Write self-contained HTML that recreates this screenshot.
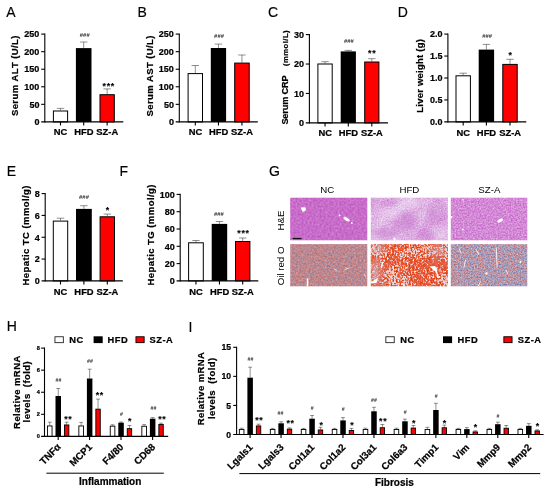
<!DOCTYPE html>
<html lang="en"><head><meta charset="utf-8"><title>Figure</title>
<style>html,body{margin:0;padding:0;background:#fff}svg{display:block}text{font-family:"Liberation Sans", sans-serif;font-kerning:none}text[font-weight=bold]{stroke:#000;stroke-width:.22px}</style>
</head><body>
<svg width="550" height="492" viewBox="0 0 550 492">
<rect width="550" height="492" fill="#fff"/>
<defs>
<filter id="hNC" x="0" y="0" width="100%" height="100%" color-interpolation-filters="sRGB">
 <feTurbulence type="fractalNoise" baseFrequency="0.5" numOctaves="2" seed="3"/>
 <feColorMatrix type="matrix" values="0.16 0 0 0 0.705  0.3 0 0 0 0.275  0.14 0 0 0 0.720  0 0 0 0 1"/>
 <feComposite in2="SourceGraphic" operator="in"/>
</filter>
<filter id="hSZ" x="0" y="0" width="100%" height="100%" color-interpolation-filters="sRGB">
 <feTurbulence type="fractalNoise" baseFrequency="0.6" numOctaves="2" seed="11"/>
 <feColorMatrix type="matrix" values="0.2 0 0 0 0.730  0.5 0 0 0 0.285  0.2 0 0 0 0.740  0 0 0 0 1"/>
 <feComposite in2="SourceGraphic" operator="in"/>
</filter>
<filter id="hHFD" x="0" y="0" width="100%" height="100%" color-interpolation-filters="sRGB">
 <feTurbulence type="fractalNoise" baseFrequency="0.7" numOctaves="2" seed="5"/>
 <feColorMatrix type="matrix" values="1 0 0 0 0  0 0 0 0 0  0 0 0 0 0  0 0 0 0 1" result="hi"/>
 <feTurbulence type="fractalNoise" baseFrequency="0.06" numOctaves="2" seed="12"/>
 <feColorMatrix type="matrix" values="0 0 0 0 0  0 1 0 0 0  0 0 0 0 0  0 0 0 0 1" result="lo"/>
 <feComposite in="hi" in2="lo" operator="arithmetic" k1="0" k2="1" k3="1" k4="0"/>
 <feColorMatrix type="matrix" values="0.16 0.12 0 0 0.728  0.46 0.36 0 0 0.270  0.16 0.12 0 0 0.745  0 0 0 0 1"/>
 <feComposite in2="SourceGraphic" operator="in"/>
</filter>
<filter id="oNC" x="0" y="0" width="100%" height="100%" color-interpolation-filters="sRGB">
 <feTurbulence type="fractalNoise" baseFrequency="0.55" numOctaves="3" seed="21"/>
 <feColorMatrix type="matrix" values="0.42 0.24 0 0 0.405  -0.06 0.28 0 0 0.420  -0.32 0.26 0 0 0.595  0 0 0 0 1"/>
 <feComposite in2="SourceGraphic" operator="in"/>
</filter>
<filter id="oSZ" x="0" y="0" width="100%" height="100%" color-interpolation-filters="sRGB">
 <feTurbulence type="fractalNoise" baseFrequency="0.7" numOctaves="2" seed="31"/>
 <feColorMatrix type="matrix" values="0.65 0.4 0 0 0.175  -0.16 0.5 0 0 0.420  -0.6 0.4 0 0 0.775  0 0 0 0 1"/>
 <feComposite in2="SourceGraphic" operator="in"/>
</filter>
<filter id="oHFD" x="0" y="0" width="100%" height="100%" color-interpolation-filters="sRGB">
 <feTurbulence type="fractalNoise" baseFrequency="0.55" numOctaves="2" seed="41"/>
 <feColorMatrix type="matrix" values="1 0 0 0 0  0 0 0 0 0  0 0 1 0 0  0 0 0 0 1" result="hi"/>
 <feTurbulence type="fractalNoise" baseFrequency="0.07" numOctaves="2" seed="48"/>
 <feColorMatrix type="matrix" values="0 0 0 0 0  0 1 0 0 0  0 0 0 0 0  0 0 0 0 1" result="lo"/>
 <feComposite in="hi" in2="lo" operator="arithmetic" k1="0" k2="1" k3="1" k4="0"/>
 <feColorMatrix type="matrix" values="3.6 2.6 0 0 -2.85  0 1 0 0 0  0 0 1 0 0  0 0 0 0 1"/>
 <feColorMatrix type="matrix" values="0.02 0 0.2 0 0.80  0.6 -0.3 0.3 0 0.29  0.82 -0.5 0.3 0 0.22  0 0 0 0 1"/>
 <feComposite in2="SourceGraphic" operator="in"/>
</filter>
</defs>
<text x="6.3" y="17.4" font-size="14" text-anchor="start" fill="#000" stroke="#000" stroke-width="0.15">A</text>
<text x="137.6" y="17.4" font-size="14" text-anchor="start" fill="#000" stroke="#000" stroke-width="0.15">B</text>
<text x="268.1" y="17.4" font-size="14" text-anchor="start" fill="#000" stroke="#000" stroke-width="0.15">C</text>
<text x="397.7" y="17.4" font-size="14" text-anchor="start" fill="#000" stroke="#000" stroke-width="0.15">D</text>
<text x="6.8" y="175.6" font-size="14" text-anchor="start" fill="#000" stroke="#000" stroke-width="0.15">E</text>
<text x="119.4" y="175.6" font-size="14" text-anchor="start" fill="#000" stroke="#000" stroke-width="0.15">F</text>
<text x="268.9" y="176.2" font-size="14" text-anchor="start" fill="#000" stroke="#000" stroke-width="0.15">G</text>
<text x="6.7" y="331.4" font-size="14" text-anchor="start" fill="#000" stroke="#000" stroke-width="0.15">H</text>
<text x="188.4" y="331.7" font-size="14" text-anchor="start" fill="#000" stroke="#000" stroke-width="0.15">I</text>
<line x1="60.5" y1="108.4" x2="60.5" y2="110.5" stroke="#222" stroke-width="0.5"/>
<line x1="56.8" y1="108.4" x2="64.2" y2="108.4" stroke="#222" stroke-width="0.5"/>
<rect x="53.4" y="111" width="14.2" height="10.9" fill="#fff" stroke="#000" stroke-width="1"/>
<line x1="83.7" y1="42" x2="83.7" y2="48.1" stroke="#222" stroke-width="0.5"/>
<line x1="80" y1="42" x2="87.4" y2="42" stroke="#222" stroke-width="0.5"/>
<rect x="75.9" y="48.1" width="15.6" height="73.8" fill="#000"/>
<line x1="107.15" y1="88.9" x2="107.15" y2="94.2" stroke="#222" stroke-width="0.5"/>
<line x1="103.45" y1="88.9" x2="110.85" y2="88.9" stroke="#222" stroke-width="0.5"/>
<rect x="100" y="94.7" width="14.3" height="27.2" fill="#ff0000" stroke="#000" stroke-width="1"/>
<line x1="44.8" y1="33.55" x2="44.8" y2="122.45" stroke="#000" stroke-width="1.1"/>
<line x1="41.2" y1="121.9" x2="123.3" y2="121.9" stroke="#000" stroke-width="1.1"/>
<text x="39.4" y="125.15" font-size="9" font-weight="bold" text-anchor="end" fill="#000">0</text>
<line x1="41.2" y1="104.34" x2="44.8" y2="104.34" stroke="#000" stroke-width="1.1"/>
<text x="39.4" y="107.59" font-size="9" font-weight="bold" text-anchor="end" fill="#000">50</text>
<line x1="41.2" y1="86.78" x2="44.8" y2="86.78" stroke="#000" stroke-width="1.1"/>
<text x="39.4" y="90.03" font-size="9" font-weight="bold" text-anchor="end" fill="#000">100</text>
<line x1="41.2" y1="69.22" x2="44.8" y2="69.22" stroke="#000" stroke-width="1.1"/>
<text x="39.4" y="72.47" font-size="9" font-weight="bold" text-anchor="end" fill="#000">150</text>
<line x1="41.2" y1="51.66" x2="44.8" y2="51.66" stroke="#000" stroke-width="1.1"/>
<text x="39.4" y="54.91" font-size="9" font-weight="bold" text-anchor="end" fill="#000">200</text>
<line x1="41.2" y1="34.1" x2="44.8" y2="34.1" stroke="#000" stroke-width="1.1"/>
<text x="39.4" y="37.35" font-size="9" font-weight="bold" text-anchor="end" fill="#000">250</text>
<line x1="60.5" y1="121.9" x2="60.5" y2="125.5" stroke="#000" stroke-width="1.1"/>
<text x="60.6" y="135.1" font-size="9.4" font-weight="bold" text-anchor="middle" fill="#000">NC</text>
<line x1="83.7" y1="121.9" x2="83.7" y2="125.5" stroke="#000" stroke-width="1.1"/>
<text x="83.8" y="135.1" font-size="9.4" font-weight="bold" text-anchor="middle" fill="#000">HFD</text>
<line x1="107.15" y1="121.9" x2="107.15" y2="125.5" stroke="#000" stroke-width="1.1"/>
<text x="107.25" y="135.1" font-size="9.4" font-weight="bold" text-anchor="middle" fill="#000">SZ-A</text>
<text x="18.3" y="75.8" font-size="9.5" font-weight="bold" text-anchor="middle" fill="#000" transform="rotate(-90 18.3 75.8)" textLength="80.5" lengthAdjust="spacing">Serum ALT (U/L)</text>
<text x="84.8" y="37" font-size="5.8" font-weight="bold" text-anchor="middle" fill="#303030" style="stroke:none" letter-spacing="0.1">###</text>
<text x="108.75" y="88.85" font-size="8.8" font-weight="bold" text-anchor="middle" fill="#000" letter-spacing="0.7" style="stroke-width:.12px">***</text>
<line x1="195.3" y1="65.5" x2="195.3" y2="73.1" stroke="#222" stroke-width="0.5"/>
<line x1="191.6" y1="65.5" x2="199" y2="65.5" stroke="#222" stroke-width="0.5"/>
<rect x="188.1" y="73.6" width="14.4" height="48.3" fill="#fff" stroke="#000" stroke-width="1"/>
<line x1="218.45" y1="44.1" x2="218.45" y2="48" stroke="#222" stroke-width="0.5"/>
<line x1="214.75" y1="44.1" x2="222.15" y2="44.1" stroke="#222" stroke-width="0.5"/>
<rect x="210.8" y="48" width="15.3" height="73.9" fill="#000"/>
<line x1="241.95" y1="55" x2="241.95" y2="62.6" stroke="#222" stroke-width="0.5"/>
<line x1="238.25" y1="55" x2="245.65" y2="55" stroke="#222" stroke-width="0.5"/>
<rect x="234.7" y="63.1" width="14.5" height="58.8" fill="#ff0000" stroke="#000" stroke-width="1"/>
<line x1="179.3" y1="33.55" x2="179.3" y2="122.45" stroke="#000" stroke-width="1.1"/>
<line x1="175.7" y1="121.9" x2="257.8" y2="121.9" stroke="#000" stroke-width="1.1"/>
<text x="173.9" y="125.15" font-size="9" font-weight="bold" text-anchor="end" fill="#000">0</text>
<line x1="175.7" y1="104.34" x2="179.3" y2="104.34" stroke="#000" stroke-width="1.1"/>
<text x="173.9" y="107.59" font-size="9" font-weight="bold" text-anchor="end" fill="#000">50</text>
<line x1="175.7" y1="86.78" x2="179.3" y2="86.78" stroke="#000" stroke-width="1.1"/>
<text x="173.9" y="90.03" font-size="9" font-weight="bold" text-anchor="end" fill="#000">100</text>
<line x1="175.7" y1="69.22" x2="179.3" y2="69.22" stroke="#000" stroke-width="1.1"/>
<text x="173.9" y="72.47" font-size="9" font-weight="bold" text-anchor="end" fill="#000">150</text>
<line x1="175.7" y1="51.66" x2="179.3" y2="51.66" stroke="#000" stroke-width="1.1"/>
<text x="173.9" y="54.91" font-size="9" font-weight="bold" text-anchor="end" fill="#000">200</text>
<line x1="175.7" y1="34.1" x2="179.3" y2="34.1" stroke="#000" stroke-width="1.1"/>
<text x="173.9" y="37.35" font-size="9" font-weight="bold" text-anchor="end" fill="#000">250</text>
<line x1="195.3" y1="121.9" x2="195.3" y2="125.5" stroke="#000" stroke-width="1.1"/>
<text x="195.4" y="135.1" font-size="9.4" font-weight="bold" text-anchor="middle" fill="#000">NC</text>
<line x1="218.45" y1="121.9" x2="218.45" y2="125.5" stroke="#000" stroke-width="1.1"/>
<text x="218.55" y="135.1" font-size="9.4" font-weight="bold" text-anchor="middle" fill="#000">HFD</text>
<line x1="241.95" y1="121.9" x2="241.95" y2="125.5" stroke="#000" stroke-width="1.1"/>
<text x="242.05" y="135.1" font-size="9.4" font-weight="bold" text-anchor="middle" fill="#000">SZ-A</text>
<text x="153" y="76" font-size="9.5" font-weight="bold" text-anchor="middle" fill="#000" transform="rotate(-90 153 76)" textLength="81" lengthAdjust="spacing">Serum AST (U/L)</text>
<text x="219.1" y="37.6" font-size="5.8" font-weight="bold" text-anchor="middle" fill="#303030" style="stroke:none" letter-spacing="0.1">###</text>
<line x1="325.05" y1="61.7" x2="325.05" y2="63.5" stroke="#222" stroke-width="0.5"/>
<line x1="321.35" y1="61.7" x2="328.75" y2="61.7" stroke="#222" stroke-width="0.5"/>
<rect x="317.9" y="64" width="14.3" height="58.9" fill="#fff" stroke="#000" stroke-width="1"/>
<line x1="348.3" y1="50.4" x2="348.3" y2="51.4" stroke="#222" stroke-width="0.5"/>
<line x1="344.6" y1="50.4" x2="352" y2="50.4" stroke="#222" stroke-width="0.5"/>
<rect x="340.7" y="51.4" width="15.2" height="71.5" fill="#000"/>
<line x1="371.8" y1="58.7" x2="371.8" y2="61.5" stroke="#222" stroke-width="0.5"/>
<line x1="368.1" y1="58.7" x2="375.5" y2="58.7" stroke="#222" stroke-width="0.5"/>
<rect x="364.7" y="62" width="14.2" height="60.9" fill="#ff0000" stroke="#000" stroke-width="1"/>
<line x1="309.4" y1="34.05" x2="309.4" y2="123.45" stroke="#000" stroke-width="1.1"/>
<line x1="305.8" y1="122.9" x2="388" y2="122.9" stroke="#000" stroke-width="1.1"/>
<text x="304" y="126.15" font-size="9" font-weight="bold" text-anchor="end" fill="#000">0</text>
<line x1="305.8" y1="93.47" x2="309.4" y2="93.47" stroke="#000" stroke-width="1.1"/>
<text x="304" y="96.72" font-size="9" font-weight="bold" text-anchor="end" fill="#000">10</text>
<line x1="305.8" y1="64.03" x2="309.4" y2="64.03" stroke="#000" stroke-width="1.1"/>
<text x="304" y="67.28" font-size="9" font-weight="bold" text-anchor="end" fill="#000">20</text>
<line x1="305.8" y1="34.6" x2="309.4" y2="34.6" stroke="#000" stroke-width="1.1"/>
<text x="304" y="37.85" font-size="9" font-weight="bold" text-anchor="end" fill="#000">30</text>
<line x1="325.05" y1="122.9" x2="325.05" y2="126.5" stroke="#000" stroke-width="1.1"/>
<text x="325.15" y="136" font-size="9.4" font-weight="bold" text-anchor="middle" fill="#000">NC</text>
<line x1="348.3" y1="122.9" x2="348.3" y2="126.5" stroke="#000" stroke-width="1.1"/>
<text x="348.4" y="136" font-size="9.4" font-weight="bold" text-anchor="middle" fill="#000">HFD</text>
<line x1="371.8" y1="122.9" x2="371.8" y2="126.5" stroke="#000" stroke-width="1.1"/>
<text x="371.9" y="136" font-size="9.4" font-weight="bold" text-anchor="middle" fill="#000">SZ-A</text>
<text x="288.2" y="124.6" font-size="9.2" font-weight="bold" text-anchor="start" fill="#000" transform="rotate(-90 288.2 124.6)" textLength="49.2" lengthAdjust="spacing">Serum CRP</text>
<text x="288" y="66" font-size="7.6" font-weight="bold" text-anchor="start" fill="#000" transform="rotate(-90 288 66)" textLength="35.6" lengthAdjust="spacing">(mmol/L)</text>
<text x="348.9" y="43.3" font-size="5.8" font-weight="bold" text-anchor="middle" fill="#303030" style="stroke:none" letter-spacing="0.1">###</text>
<text x="372.15" y="56.45" font-size="8.8" font-weight="bold" text-anchor="middle" fill="#000" letter-spacing="0.7" style="stroke-width:.12px">**</text>
<line x1="463.2" y1="73.2" x2="463.2" y2="75.3" stroke="#222" stroke-width="0.5"/>
<line x1="459.5" y1="73.2" x2="466.9" y2="73.2" stroke="#222" stroke-width="0.5"/>
<rect x="456" y="75.8" width="14.4" height="46.1" fill="#fff" stroke="#000" stroke-width="1"/>
<line x1="486.4" y1="44.4" x2="486.4" y2="49.6" stroke="#222" stroke-width="0.5"/>
<line x1="482.7" y1="44.4" x2="490.1" y2="44.4" stroke="#222" stroke-width="0.5"/>
<rect x="478.7" y="49.6" width="15.4" height="72.3" fill="#000"/>
<line x1="510" y1="59.3" x2="510" y2="63.9" stroke="#222" stroke-width="0.5"/>
<line x1="506.3" y1="59.3" x2="513.7" y2="59.3" stroke="#222" stroke-width="0.5"/>
<rect x="502.8" y="64.4" width="14.4" height="57.5" fill="#ff0000" stroke="#000" stroke-width="1"/>
<line x1="447.9" y1="33.55" x2="447.9" y2="122.45" stroke="#000" stroke-width="1.1"/>
<line x1="444.3" y1="121.9" x2="526.3" y2="121.9" stroke="#000" stroke-width="1.1"/>
<text x="442.5" y="125.15" font-size="9" font-weight="bold" text-anchor="end" fill="#000">0.0</text>
<line x1="444.3" y1="99.95" x2="447.9" y2="99.95" stroke="#000" stroke-width="1.1"/>
<text x="442.5" y="103.2" font-size="9" font-weight="bold" text-anchor="end" fill="#000">0.5</text>
<line x1="444.3" y1="78" x2="447.9" y2="78" stroke="#000" stroke-width="1.1"/>
<text x="442.5" y="81.25" font-size="9" font-weight="bold" text-anchor="end" fill="#000">1.0</text>
<line x1="444.3" y1="56.05" x2="447.9" y2="56.05" stroke="#000" stroke-width="1.1"/>
<text x="442.5" y="59.3" font-size="9" font-weight="bold" text-anchor="end" fill="#000">1.5</text>
<line x1="444.3" y1="34.1" x2="447.9" y2="34.1" stroke="#000" stroke-width="1.1"/>
<text x="442.5" y="37.35" font-size="9" font-weight="bold" text-anchor="end" fill="#000">2.0</text>
<line x1="463.2" y1="121.9" x2="463.2" y2="125.5" stroke="#000" stroke-width="1.1"/>
<text x="463.3" y="135.5" font-size="9.4" font-weight="bold" text-anchor="middle" fill="#000">NC</text>
<line x1="486.4" y1="121.9" x2="486.4" y2="125.5" stroke="#000" stroke-width="1.1"/>
<text x="486.5" y="135.5" font-size="9.4" font-weight="bold" text-anchor="middle" fill="#000">HFD</text>
<line x1="510" y1="121.9" x2="510" y2="125.5" stroke="#000" stroke-width="1.1"/>
<text x="510.1" y="135.5" font-size="9.4" font-weight="bold" text-anchor="middle" fill="#000">SZ-A</text>
<text x="423.4" y="75.9" font-size="9.5" font-weight="bold" text-anchor="middle" fill="#000" transform="rotate(-90 423.4 75.9)" textLength="73.7" lengthAdjust="spacing">Liver weight (g)</text>
<text x="487.2" y="38.2" font-size="5.8" font-weight="bold" text-anchor="middle" fill="#303030" style="stroke:none" letter-spacing="0.1">###</text>
<text x="510.45" y="58.05" font-size="8.8" font-weight="bold" text-anchor="middle" fill="#000" letter-spacing="0.7" style="stroke-width:.12px">*</text>
<line x1="60.5" y1="218.2" x2="60.5" y2="220.6" stroke="#222" stroke-width="0.5"/>
<line x1="56.8" y1="218.2" x2="64.2" y2="218.2" stroke="#222" stroke-width="0.5"/>
<rect x="53.3" y="221.1" width="14.4" height="59.8" fill="#fff" stroke="#000" stroke-width="1"/>
<line x1="83.9" y1="205.7" x2="83.9" y2="208.9" stroke="#222" stroke-width="0.5"/>
<line x1="80.2" y1="205.7" x2="87.6" y2="205.7" stroke="#222" stroke-width="0.5"/>
<rect x="76" y="208.9" width="15.8" height="72" fill="#000"/>
<line x1="107.3" y1="214.1" x2="107.3" y2="216.3" stroke="#222" stroke-width="0.5"/>
<line x1="103.6" y1="214.1" x2="111" y2="214.1" stroke="#222" stroke-width="0.5"/>
<rect x="100.1" y="216.8" width="14.4" height="64.1" fill="#ff0000" stroke="#000" stroke-width="1"/>
<line x1="45.2" y1="193.05" x2="45.2" y2="281.45" stroke="#000" stroke-width="1.1"/>
<line x1="41.6" y1="280.9" x2="122.8" y2="280.9" stroke="#000" stroke-width="1.1"/>
<text x="39.8" y="284.15" font-size="9" font-weight="bold" text-anchor="end" fill="#000">0</text>
<line x1="41.6" y1="259.07" x2="45.2" y2="259.07" stroke="#000" stroke-width="1.1"/>
<text x="39.8" y="262.32" font-size="9" font-weight="bold" text-anchor="end" fill="#000">2</text>
<line x1="41.6" y1="237.25" x2="45.2" y2="237.25" stroke="#000" stroke-width="1.1"/>
<text x="39.8" y="240.5" font-size="9" font-weight="bold" text-anchor="end" fill="#000">4</text>
<line x1="41.6" y1="215.42" x2="45.2" y2="215.42" stroke="#000" stroke-width="1.1"/>
<text x="39.8" y="218.67" font-size="9" font-weight="bold" text-anchor="end" fill="#000">6</text>
<line x1="41.6" y1="193.6" x2="45.2" y2="193.6" stroke="#000" stroke-width="1.1"/>
<text x="39.8" y="196.85" font-size="9" font-weight="bold" text-anchor="end" fill="#000">8</text>
<line x1="60.5" y1="280.9" x2="60.5" y2="284.5" stroke="#000" stroke-width="1.1"/>
<text x="60.6" y="294.8" font-size="9.4" font-weight="bold" text-anchor="middle" fill="#000">NC</text>
<line x1="83.9" y1="280.9" x2="83.9" y2="284.5" stroke="#000" stroke-width="1.1"/>
<text x="84" y="294.8" font-size="9.4" font-weight="bold" text-anchor="middle" fill="#000">HFD</text>
<line x1="107.3" y1="280.9" x2="107.3" y2="284.5" stroke="#000" stroke-width="1.1"/>
<text x="107.4" y="294.8" font-size="9.4" font-weight="bold" text-anchor="middle" fill="#000">SZ-A</text>
<text x="29.3" y="235.5" font-size="9.5" font-weight="bold" text-anchor="middle" fill="#000" transform="rotate(-90 29.3 235.5)" textLength="100" lengthAdjust="spacing">Hepatic TC (mmol/g)</text>
<text x="84" y="199.2" font-size="5.8" font-weight="bold" text-anchor="middle" fill="#303030" style="stroke:none" letter-spacing="0.1">###</text>
<text x="107.75" y="212.85" font-size="8.8" font-weight="bold" text-anchor="middle" fill="#000" letter-spacing="0.7" style="stroke-width:.12px">*</text>
<line x1="195.95" y1="240.5" x2="195.95" y2="242.3" stroke="#222" stroke-width="0.5"/>
<line x1="192.25" y1="240.5" x2="199.65" y2="240.5" stroke="#222" stroke-width="0.5"/>
<rect x="188.6" y="242.8" width="14.7" height="38.1" fill="#fff" stroke="#000" stroke-width="1"/>
<line x1="219.45" y1="221.5" x2="219.45" y2="223.9" stroke="#222" stroke-width="0.5"/>
<line x1="215.75" y1="221.5" x2="223.15" y2="221.5" stroke="#222" stroke-width="0.5"/>
<rect x="211.7" y="223.9" width="15.5" height="57" fill="#000"/>
<line x1="242.7" y1="238" x2="242.7" y2="241" stroke="#222" stroke-width="0.5"/>
<line x1="239" y1="238" x2="246.4" y2="238" stroke="#222" stroke-width="0.5"/>
<rect x="235.5" y="241.5" width="14.4" height="39.4" fill="#ff0000" stroke="#000" stroke-width="1"/>
<line x1="180.2" y1="193.85" x2="180.2" y2="281.45" stroke="#000" stroke-width="1.1"/>
<line x1="176.6" y1="280.9" x2="258.3" y2="280.9" stroke="#000" stroke-width="1.1"/>
<text x="174.8" y="284.15" font-size="9" font-weight="bold" text-anchor="end" fill="#000">0</text>
<line x1="176.6" y1="263.6" x2="180.2" y2="263.6" stroke="#000" stroke-width="1.1"/>
<text x="174.8" y="266.85" font-size="9" font-weight="bold" text-anchor="end" fill="#000">20</text>
<line x1="176.6" y1="246.3" x2="180.2" y2="246.3" stroke="#000" stroke-width="1.1"/>
<text x="174.8" y="249.55" font-size="9" font-weight="bold" text-anchor="end" fill="#000">40</text>
<line x1="176.6" y1="229" x2="180.2" y2="229" stroke="#000" stroke-width="1.1"/>
<text x="174.8" y="232.25" font-size="9" font-weight="bold" text-anchor="end" fill="#000">60</text>
<line x1="176.6" y1="211.7" x2="180.2" y2="211.7" stroke="#000" stroke-width="1.1"/>
<text x="174.8" y="214.95" font-size="9" font-weight="bold" text-anchor="end" fill="#000">80</text>
<line x1="176.6" y1="194.4" x2="180.2" y2="194.4" stroke="#000" stroke-width="1.1"/>
<text x="174.8" y="197.65" font-size="9" font-weight="bold" text-anchor="end" fill="#000">100</text>
<line x1="195.95" y1="280.9" x2="195.95" y2="284.5" stroke="#000" stroke-width="1.1"/>
<text x="196.05" y="294.8" font-size="9.4" font-weight="bold" text-anchor="middle" fill="#000">NC</text>
<line x1="219.45" y1="280.9" x2="219.45" y2="284.5" stroke="#000" stroke-width="1.1"/>
<text x="219.55" y="294.8" font-size="9.4" font-weight="bold" text-anchor="middle" fill="#000">HFD</text>
<line x1="242.7" y1="280.9" x2="242.7" y2="284.5" stroke="#000" stroke-width="1.1"/>
<text x="242.8" y="294.8" font-size="9.4" font-weight="bold" text-anchor="middle" fill="#000">SZ-A</text>
<text x="153.8" y="235" font-size="9.5" font-weight="bold" text-anchor="middle" fill="#000" transform="rotate(-90 153.8 235)" textLength="101" lengthAdjust="spacing">Hepatic TG (mmol/g)</text>
<text x="218.9" y="216.1" font-size="5.8" font-weight="bold" text-anchor="middle" fill="#303030" style="stroke:none" letter-spacing="0.1">###</text>
<text x="243.55" y="236.45" font-size="8.8" font-weight="bold" text-anchor="middle" fill="#000" letter-spacing="0.7" style="stroke-width:.12px">***</text>
<text x="327.3" y="192.6" font-size="9.7" text-anchor="middle" fill="#000">NC</text>
<text x="409.4" y="192.6" font-size="9.7" text-anchor="middle" fill="#000">HFD</text>
<text x="489.4" y="192.6" font-size="9.7" text-anchor="middle" fill="#000">SZ-A</text>
<text x="284.3" y="220.6" font-size="9.7" text-anchor="middle" fill="#000" transform="rotate(-90 284.3 220.6)">H&amp;E</text>
<text x="284.3" y="265.9" font-size="9.7" text-anchor="middle" fill="#000" transform="rotate(-90 284.3 265.9)">Oil red O</text>
<rect x="290.2" y="197.7" width="77.1" height="42.6" fill="#c76bc6" filter="url(#hNC)"/>
<rect x="370.8" y="197.7" width="77.1" height="42.6" fill="#c76bc6" filter="url(#hHFD)"/>
<rect x="450.8" y="197.7" width="76.5" height="42.6" fill="#c76bc6" filter="url(#hSZ)"/>
<rect x="290.2" y="244.1" width="77.1" height="42.2" fill="#b07d8c" filter="url(#oNC)"/>
<rect x="370.8" y="244.1" width="77.1" height="42.2" fill="#b07d8c" filter="url(#oHFD)"/>
<rect x="450.8" y="244.1" width="76.5" height="42.2" fill="#b07d8c" filter="url(#oSZ)"/>
<clipPath id="cH2"><rect x="370.8" y="197.7" width="77.1" height="42.6"/></clipPath>
<clipPath id="cO2"><rect x="370.8" y="244.1" width="77.1" height="42.2"/></clipPath>
<filter id="bl3" x="-50%" y="-50%" width="200%" height="200%"><feGaussianBlur stdDeviation="3"/></filter>
<g clip-path="url(#cH2)"><g filter="url(#bl3)" fill="#c97fd0" fill-opacity="0.55">
<ellipse cx="384" cy="233" rx="13" ry="6"/><ellipse cx="407" cy="222" rx="8" ry="10"/><ellipse cx="432" cy="215" rx="7" ry="9"/><ellipse cx="426" cy="236" rx="9" ry="4"/><ellipse cx="375" cy="200" rx="6" ry="4"/>
</g><g filter="url(#bl3)" fill="#f3e6f6" fill-opacity="0.5"><ellipse cx="386" cy="213" rx="10" ry="6"/><ellipse cx="412" cy="203" rx="14" ry="4"/><ellipse cx="443" cy="234" rx="6" ry="6"/></g></g>
<g clip-path="url(#cO2)"><g filter="url(#bl3)" fill="#c9b6cc" fill-opacity="0.6">
<ellipse cx="376" cy="272" rx="6" ry="13"/><ellipse cx="439" cy="251" rx="8" ry="6"/><ellipse cx="380" cy="249" rx="7" ry="4"/>
</g></g>
<g fill="#fff">
<path d="M300.6 207.6 l4.6 -0.4 l0.9 2.2 l-2 2.4 l-1.9 -0.6z"/>
<ellipse cx="346.6" cy="219.2" rx="3.6" ry="1.5" transform="rotate(32 346.6 219.2)"/>
<circle cx="339.6" cy="215.4" r="0.9"/><circle cx="351.8" cy="223" r="0.9"/>
<ellipse cx="500.2" cy="220.6" rx="3.1" ry="1.5" transform="rotate(-28 500.2 220.6)"/>
<circle cx="462.8" cy="229.6" r="0.9"/><circle cx="463" cy="199.8" r="0.7"/><circle cx="451.6" cy="217" r="1"/>
<circle cx="394.5" cy="239" r="1.3" fill-opacity="0.8"/>
<rect x="306.8" y="278.4" width="1.5" height="8" />
<path d="M334 268.8 l3 1.6 M344.5 269.8 l4.6 -2 M364 274 l1.6 2.6" stroke="#f3e6e0" stroke-width="0.9" fill="none"/>
<path d="M382.6 262 l-1.2 6 M372 282.5 l5 -3.4 l-1 3.2z M431 267 l5.4 4.6 l-1.6 -5z M436.6 272 l1.6 6" stroke="#fff" stroke-width="1.3" fill="#fff"/>
<path d="M496.3 248 l0.8 19 M465.6 260 l-1.8 8 M480.6 281.5 l-2.4 4.6 M459 248.5 l2.4 5 M476 249.5 l3 5.4 M506 270 l2 4" stroke="#f4eef2" stroke-width="1" fill="none"/>
<circle cx="486.4" cy="273.4" r="1.1"/><circle cx="520.4" cy="262" r="1"/>
</g>
<rect x="292.6" y="237.9" width="9" height="1.3" fill="#111"/>
<line x1="49.75" y1="422.2" x2="49.75" y2="425.5" stroke="#222" stroke-width="0.5"/>
<line x1="47.85" y1="422.2" x2="51.65" y2="422.2" stroke="#222" stroke-width="0.5"/>
<rect x="47.45" y="425.95" width="4.6" height="10.45" fill="#fff" stroke="#000" stroke-width="0.9"/>
<line x1="58.25" y1="388.5" x2="58.25" y2="396" stroke="#222" stroke-width="0.5"/>
<line x1="56.35" y1="388.5" x2="60.15" y2="388.5" stroke="#222" stroke-width="0.5"/>
<rect x="55.5" y="396" width="5.5" height="40.4" fill="#000"/>
<line x1="66.65" y1="422.2" x2="66.65" y2="424.5" stroke="#222" stroke-width="0.5"/>
<line x1="64.75" y1="422.2" x2="68.55" y2="422.2" stroke="#222" stroke-width="0.5"/>
<rect x="64.45" y="424.95" width="4.4" height="11.45" fill="#ff0000" stroke="#000" stroke-width="0.9"/>
<text x="58.4" y="382.2" font-size="5.2" font-weight="bold" text-anchor="middle" fill="#303030" style="stroke:none" letter-spacing="0.1">##</text>
<text x="68.25" y="421.95" font-size="8.8" font-weight="bold" text-anchor="middle" fill="#000" letter-spacing="0.7" style="stroke-width:.12px">**</text>
<line x1="81.15" y1="422.4" x2="81.15" y2="425.5" stroke="#222" stroke-width="0.5"/>
<line x1="79.25" y1="422.4" x2="83.05" y2="422.4" stroke="#222" stroke-width="0.5"/>
<rect x="78.85" y="425.95" width="4.6" height="10.45" fill="#fff" stroke="#000" stroke-width="0.9"/>
<line x1="89.65" y1="369.2" x2="89.65" y2="378.5" stroke="#222" stroke-width="0.5"/>
<line x1="87.75" y1="369.2" x2="91.55" y2="369.2" stroke="#222" stroke-width="0.5"/>
<rect x="86.9" y="378.5" width="5.5" height="57.9" fill="#000"/>
<line x1="98.05" y1="399.1" x2="98.05" y2="408.7" stroke="#222" stroke-width="0.5"/>
<line x1="96.15" y1="399.1" x2="99.95" y2="399.1" stroke="#222" stroke-width="0.5"/>
<rect x="95.85" y="409.15" width="4.4" height="27.25" fill="#ff0000" stroke="#000" stroke-width="0.9"/>
<text x="90" y="363.2" font-size="5.2" font-weight="bold" text-anchor="middle" fill="#303030" style="stroke:none" letter-spacing="0.1">##</text>
<text x="99.85" y="397.95" font-size="8.8" font-weight="bold" text-anchor="middle" fill="#000" letter-spacing="0.7" style="stroke-width:.12px">**</text>
<line x1="112.55" y1="424.8" x2="112.55" y2="425.7" stroke="#222" stroke-width="0.5"/>
<line x1="110.65" y1="424.8" x2="114.45" y2="424.8" stroke="#222" stroke-width="0.5"/>
<rect x="110.25" y="426.15" width="4.6" height="10.25" fill="#fff" stroke="#000" stroke-width="0.9"/>
<line x1="121.05" y1="422" x2="121.05" y2="422.7" stroke="#222" stroke-width="0.5"/>
<line x1="119.15" y1="422" x2="122.95" y2="422" stroke="#222" stroke-width="0.5"/>
<rect x="118.3" y="422.7" width="5.5" height="13.7" fill="#000"/>
<line x1="129.45" y1="425.5" x2="129.45" y2="428.2" stroke="#222" stroke-width="0.5"/>
<line x1="127.55" y1="425.5" x2="131.35" y2="425.5" stroke="#222" stroke-width="0.5"/>
<rect x="127.25" y="428.65" width="4.4" height="7.75" fill="#ff0000" stroke="#000" stroke-width="0.9"/>
<text x="121.4" y="416.4" font-size="5.2" font-weight="bold" text-anchor="middle" fill="#303030" style="stroke:none" letter-spacing="0.1">#</text>
<text x="129.95" y="424.15" font-size="8.8" font-weight="bold" text-anchor="middle" fill="#000" letter-spacing="0.7" style="stroke-width:.12px">*</text>
<line x1="144.15" y1="424.6" x2="144.15" y2="425.8" stroke="#222" stroke-width="0.5"/>
<line x1="142.25" y1="424.6" x2="146.05" y2="424.6" stroke="#222" stroke-width="0.5"/>
<rect x="141.85" y="426.25" width="4.6" height="10.15" fill="#fff" stroke="#000" stroke-width="0.9"/>
<line x1="152.65" y1="417.6" x2="152.65" y2="418.7" stroke="#222" stroke-width="0.5"/>
<line x1="150.75" y1="417.6" x2="154.55" y2="417.6" stroke="#222" stroke-width="0.5"/>
<rect x="149.9" y="418.7" width="5.5" height="17.7" fill="#000"/>
<line x1="161.05" y1="423.2" x2="161.05" y2="424" stroke="#222" stroke-width="0.5"/>
<line x1="159.15" y1="423.2" x2="162.95" y2="423.2" stroke="#222" stroke-width="0.5"/>
<rect x="158.85" y="424.45" width="4.4" height="11.95" fill="#ff0000" stroke="#000" stroke-width="0.9"/>
<text x="153.6" y="410.4" font-size="5.2" font-weight="bold" text-anchor="middle" fill="#303030" style="stroke:none" letter-spacing="0.1">##</text>
<text x="162.35" y="421.55" font-size="8.8" font-weight="bold" text-anchor="middle" fill="#000" letter-spacing="0.7" style="stroke-width:.12px">**</text>
<line x1="44.5" y1="347.55" x2="44.5" y2="436.95" stroke="#000" stroke-width="1.1"/>
<line x1="41.1" y1="436.4" x2="168.2" y2="436.4" stroke="#000" stroke-width="1.1"/>
<text x="39.9" y="438.42" font-size="5.6" font-weight="bold" text-anchor="end" fill="#000">0</text>
<line x1="41.1" y1="414.32" x2="44.5" y2="414.32" stroke="#000" stroke-width="1.1"/>
<text x="39.9" y="416.34" font-size="5.6" font-weight="bold" text-anchor="end" fill="#000">2</text>
<line x1="41.1" y1="392.25" x2="44.5" y2="392.25" stroke="#000" stroke-width="1.1"/>
<text x="39.9" y="394.27" font-size="5.6" font-weight="bold" text-anchor="end" fill="#000">4</text>
<line x1="41.1" y1="370.18" x2="44.5" y2="370.18" stroke="#000" stroke-width="1.1"/>
<text x="39.9" y="372.19" font-size="5.6" font-weight="bold" text-anchor="end" fill="#000">6</text>
<line x1="41.1" y1="348.1" x2="44.5" y2="348.1" stroke="#000" stroke-width="1.1"/>
<text x="39.9" y="350.12" font-size="5.6" font-weight="bold" text-anchor="end" fill="#000">8</text>
<line x1="58.2" y1="436.4" x2="58.2" y2="439.9" stroke="#000" stroke-width="1.1"/>
<text x="61.4" y="447.6" font-size="9.8" font-weight="bold" text-anchor="end" fill="#000" transform="rotate(-45 61.4 447.6)">TNFα</text>
<line x1="89.6" y1="436.4" x2="89.6" y2="439.9" stroke="#000" stroke-width="1.1"/>
<text x="92.8" y="447.6" font-size="9.8" font-weight="bold" text-anchor="end" fill="#000" transform="rotate(-45 92.8 447.6)">MCP1</text>
<line x1="121" y1="436.4" x2="121" y2="439.9" stroke="#000" stroke-width="1.1"/>
<text x="124.2" y="447.6" font-size="9.8" font-weight="bold" text-anchor="end" fill="#000" transform="rotate(-45 124.2 447.6)">F4/80</text>
<line x1="152.6" y1="436.4" x2="152.6" y2="439.9" stroke="#000" stroke-width="1.1"/>
<text x="155.8" y="447.6" font-size="9.8" font-weight="bold" text-anchor="end" fill="#000" transform="rotate(-45 155.8 447.6)">CD68</text>
<line x1="46.4" y1="473.2" x2="163.8" y2="473.2" stroke="#000" stroke-width="1"/>
<text x="110.2" y="485.4" font-size="10" font-weight="bold" text-anchor="middle" fill="#000">Inflammation</text>
<text x="19.6" y="392.3" font-size="9.5" font-weight="bold" text-anchor="middle" fill="#000" transform="rotate(-90 19.6 392.3)" textLength="73.2" lengthAdjust="spacing">Relative mRNA</text>
<text x="30.5" y="391.8" font-size="9.5" font-weight="bold" text-anchor="middle" fill="#000" transform="rotate(-90 30.5 391.8)" textLength="61.2" lengthAdjust="spacing">levels&#160; (fold)</text>
<rect x="54.95" y="336.75" width="8.4" height="5.9" fill="#fff" stroke="#222" stroke-width="0.9"/>
<text x="69.3" y="342.6" font-size="9.3" font-weight="bold" text-anchor="start" fill="#000" letter-spacing="0.5">NC</text>
<rect x="93.6" y="336.3" width="9.1" height="6.8" fill="#000"/>
<text x="107.6" y="342.6" font-size="9.3" font-weight="bold" text-anchor="start" fill="#000" letter-spacing="0.5">HFD</text>
<rect x="135.95" y="336.75" width="8.2" height="5.9" fill="#ff0000" stroke="#000" stroke-width="0.9"/>
<text x="149.6" y="342.6" font-size="9.3" font-weight="bold" text-anchor="start" fill="#000" letter-spacing="0.5">SZ-A</text>
<line x1="241.65" y1="428.2" x2="241.65" y2="429.1" stroke="#222" stroke-width="0.5"/>
<line x1="239.75" y1="428.2" x2="243.55" y2="428.2" stroke="#222" stroke-width="0.5"/>
<rect x="239.35" y="429.55" width="4.6" height="4.95" fill="#fff" stroke="#000" stroke-width="0.9"/>
<line x1="250.15" y1="367.2" x2="250.15" y2="377.7" stroke="#222" stroke-width="0.5"/>
<line x1="248.25" y1="367.2" x2="252.05" y2="367.2" stroke="#222" stroke-width="0.5"/>
<rect x="247.4" y="377.7" width="5.5" height="56.8" fill="#000"/>
<line x1="258.55" y1="424.2" x2="258.55" y2="425.5" stroke="#222" stroke-width="0.5"/>
<line x1="256.65" y1="424.2" x2="260.45" y2="424.2" stroke="#222" stroke-width="0.5"/>
<rect x="256.35" y="425.95" width="4.4" height="8.55" fill="#ff0000" stroke="#000" stroke-width="0.9"/>
<text x="250.5" y="360.5" font-size="5.2" font-weight="bold" text-anchor="middle" fill="#303030" style="stroke:none" letter-spacing="0.1">##</text>
<text x="259.35" y="423.35" font-size="8.8" font-weight="bold" text-anchor="middle" fill="#000" letter-spacing="0.7" style="stroke-width:.12px">**</text>
<line x1="272.61" y1="428.4" x2="272.61" y2="429.1" stroke="#222" stroke-width="0.5"/>
<line x1="270.71" y1="428.4" x2="274.51" y2="428.4" stroke="#222" stroke-width="0.5"/>
<rect x="270.31" y="429.55" width="4.6" height="4.95" fill="#fff" stroke="#000" stroke-width="0.9"/>
<line x1="281.11" y1="421.8" x2="281.11" y2="423.3" stroke="#222" stroke-width="0.5"/>
<line x1="279.21" y1="421.8" x2="283.01" y2="421.8" stroke="#222" stroke-width="0.5"/>
<rect x="278.36" y="423.3" width="5.5" height="11.2" fill="#000"/>
<line x1="289.51" y1="427.9" x2="289.51" y2="428.7" stroke="#222" stroke-width="0.5"/>
<line x1="287.61" y1="427.9" x2="291.41" y2="427.9" stroke="#222" stroke-width="0.5"/>
<rect x="287.31" y="429.15" width="4.4" height="5.35" fill="#ff0000" stroke="#000" stroke-width="0.9"/>
<text x="280.56" y="414.5" font-size="5.2" font-weight="bold" text-anchor="middle" fill="#303030" style="stroke:none" letter-spacing="0.1">##</text>
<text x="290.61" y="425.75" font-size="8.8" font-weight="bold" text-anchor="middle" fill="#000" letter-spacing="0.7" style="stroke-width:.12px">**</text>
<line x1="303.57" y1="428.4" x2="303.57" y2="429.1" stroke="#222" stroke-width="0.5"/>
<line x1="301.67" y1="428.4" x2="305.47" y2="428.4" stroke="#222" stroke-width="0.5"/>
<rect x="301.27" y="429.55" width="4.6" height="4.95" fill="#fff" stroke="#000" stroke-width="0.9"/>
<line x1="312.07" y1="415.5" x2="312.07" y2="418.7" stroke="#222" stroke-width="0.5"/>
<line x1="310.17" y1="415.5" x2="313.97" y2="415.5" stroke="#222" stroke-width="0.5"/>
<rect x="309.32" y="418.7" width="5.5" height="15.8" fill="#000"/>
<line x1="320.47" y1="427.3" x2="320.47" y2="429.5" stroke="#222" stroke-width="0.5"/>
<line x1="318.57" y1="427.3" x2="322.37" y2="427.3" stroke="#222" stroke-width="0.5"/>
<rect x="318.27" y="429.95" width="4.4" height="4.55" fill="#ff0000" stroke="#000" stroke-width="0.9"/>
<text x="312.32" y="410.2" font-size="5.2" font-weight="bold" text-anchor="middle" fill="#303030" style="stroke:none" letter-spacing="0.1">#</text>
<text x="321.67" y="427.55" font-size="8.8" font-weight="bold" text-anchor="middle" fill="#000" letter-spacing="0.7" style="stroke-width:.12px">*</text>
<line x1="334.53" y1="428.4" x2="334.53" y2="429.1" stroke="#222" stroke-width="0.5"/>
<line x1="332.63" y1="428.4" x2="336.43" y2="428.4" stroke="#222" stroke-width="0.5"/>
<rect x="332.23" y="429.55" width="4.6" height="4.95" fill="#fff" stroke="#000" stroke-width="0.9"/>
<line x1="343.03" y1="417.6" x2="343.03" y2="420.4" stroke="#222" stroke-width="0.5"/>
<line x1="341.13" y1="417.6" x2="344.93" y2="417.6" stroke="#222" stroke-width="0.5"/>
<rect x="340.28" y="420.4" width="5.5" height="14.1" fill="#000"/>
<line x1="351.43" y1="428.4" x2="351.43" y2="430" stroke="#222" stroke-width="0.5"/>
<line x1="349.53" y1="428.4" x2="353.33" y2="428.4" stroke="#222" stroke-width="0.5"/>
<rect x="349.23" y="430.45" width="4.4" height="4.05" fill="#ff0000" stroke="#000" stroke-width="0.9"/>
<text x="343.18" y="410.6" font-size="5.2" font-weight="bold" text-anchor="middle" fill="#303030" style="stroke:none" letter-spacing="0.1">#</text>
<text x="352.23" y="428.35" font-size="8.8" font-weight="bold" text-anchor="middle" fill="#000" letter-spacing="0.7" style="stroke-width:.12px">*</text>
<line x1="365.49" y1="428.2" x2="365.49" y2="429.1" stroke="#222" stroke-width="0.5"/>
<line x1="363.59" y1="428.2" x2="367.39" y2="428.2" stroke="#222" stroke-width="0.5"/>
<rect x="363.19" y="429.55" width="4.6" height="4.95" fill="#fff" stroke="#000" stroke-width="0.9"/>
<line x1="373.99" y1="407.3" x2="373.99" y2="411.3" stroke="#222" stroke-width="0.5"/>
<line x1="372.09" y1="407.3" x2="375.89" y2="407.3" stroke="#222" stroke-width="0.5"/>
<rect x="371.24" y="411.3" width="5.5" height="23.2" fill="#000"/>
<line x1="382.39" y1="424.5" x2="382.39" y2="427.3" stroke="#222" stroke-width="0.5"/>
<line x1="380.49" y1="424.5" x2="384.29" y2="424.5" stroke="#222" stroke-width="0.5"/>
<rect x="380.19" y="427.75" width="4.4" height="6.75" fill="#ff0000" stroke="#000" stroke-width="0.9"/>
<text x="374.04" y="402.2" font-size="5.2" font-weight="bold" text-anchor="middle" fill="#303030" style="stroke:none" letter-spacing="0.1">##</text>
<text x="383.19" y="424.35" font-size="8.8" font-weight="bold" text-anchor="middle" fill="#000" letter-spacing="0.7" style="stroke-width:.12px">**</text>
<line x1="396.45" y1="428.2" x2="396.45" y2="429.1" stroke="#222" stroke-width="0.5"/>
<line x1="394.55" y1="428.2" x2="398.35" y2="428.2" stroke="#222" stroke-width="0.5"/>
<rect x="394.15" y="429.55" width="4.6" height="4.95" fill="#fff" stroke="#000" stroke-width="0.9"/>
<line x1="404.95" y1="419.1" x2="404.95" y2="421.3" stroke="#222" stroke-width="0.5"/>
<line x1="403.05" y1="419.1" x2="406.85" y2="419.1" stroke="#222" stroke-width="0.5"/>
<rect x="402.2" y="421.3" width="5.5" height="13.2" fill="#000"/>
<line x1="413.35" y1="425.5" x2="413.35" y2="427.6" stroke="#222" stroke-width="0.5"/>
<line x1="411.45" y1="425.5" x2="415.25" y2="425.5" stroke="#222" stroke-width="0.5"/>
<rect x="411.15" y="428.05" width="4.4" height="6.45" fill="#ff0000" stroke="#000" stroke-width="0.9"/>
<text x="405.3" y="414" font-size="5.2" font-weight="bold" text-anchor="middle" fill="#303030" style="stroke:none" letter-spacing="0.1">#</text>
<text x="413.95" y="425.55" font-size="8.8" font-weight="bold" text-anchor="middle" fill="#000" letter-spacing="0.7" style="stroke-width:.12px">*</text>
<line x1="427.41" y1="427.3" x2="427.41" y2="429.1" stroke="#222" stroke-width="0.5"/>
<line x1="425.51" y1="427.3" x2="429.31" y2="427.3" stroke="#222" stroke-width="0.5"/>
<rect x="425.11" y="429.55" width="4.6" height="4.95" fill="#fff" stroke="#000" stroke-width="0.9"/>
<line x1="435.91" y1="403.3" x2="435.91" y2="410" stroke="#222" stroke-width="0.5"/>
<line x1="434.01" y1="403.3" x2="437.81" y2="403.3" stroke="#222" stroke-width="0.5"/>
<rect x="433.16" y="410" width="5.5" height="24.5" fill="#000"/>
<line x1="444.31" y1="425.1" x2="444.31" y2="427.3" stroke="#222" stroke-width="0.5"/>
<line x1="442.41" y1="425.1" x2="446.21" y2="425.1" stroke="#222" stroke-width="0.5"/>
<rect x="442.11" y="427.75" width="4.4" height="6.75" fill="#ff0000" stroke="#000" stroke-width="0.9"/>
<text x="436.26" y="397.9" font-size="5.2" font-weight="bold" text-anchor="middle" fill="#303030" style="stroke:none" letter-spacing="0.1">#</text>
<text x="444.81" y="425.55" font-size="8.8" font-weight="bold" text-anchor="middle" fill="#000" letter-spacing="0.7" style="stroke-width:.12px">*</text>
<line x1="458.37" y1="428.4" x2="458.37" y2="429.1" stroke="#222" stroke-width="0.5"/>
<line x1="456.47" y1="428.4" x2="460.27" y2="428.4" stroke="#222" stroke-width="0.5"/>
<rect x="456.07" y="429.55" width="4.6" height="4.95" fill="#fff" stroke="#000" stroke-width="0.9"/>
<line x1="466.87" y1="427.6" x2="466.87" y2="429.1" stroke="#222" stroke-width="0.5"/>
<line x1="464.97" y1="427.6" x2="468.77" y2="427.6" stroke="#222" stroke-width="0.5"/>
<rect x="464.12" y="429.1" width="5.5" height="5.4" fill="#000"/>
<line x1="475.27" y1="430.8" x2="475.27" y2="431.5" stroke="#222" stroke-width="0.5"/>
<line x1="473.37" y1="430.8" x2="477.17" y2="430.8" stroke="#222" stroke-width="0.5"/>
<rect x="473.07" y="431.95" width="4.4" height="2.55" fill="#ff0000" stroke="#000" stroke-width="0.9"/>
<text x="475.77" y="430.15" font-size="8.8" font-weight="bold" text-anchor="middle" fill="#000" letter-spacing="0.7" style="stroke-width:.12px">*</text>
<line x1="489.33" y1="428.4" x2="489.33" y2="429.1" stroke="#222" stroke-width="0.5"/>
<line x1="487.43" y1="428.4" x2="491.23" y2="428.4" stroke="#222" stroke-width="0.5"/>
<rect x="487.03" y="429.55" width="4.6" height="4.95" fill="#fff" stroke="#000" stroke-width="0.9"/>
<line x1="497.83" y1="422.2" x2="497.83" y2="424.2" stroke="#222" stroke-width="0.5"/>
<line x1="495.93" y1="422.2" x2="499.73" y2="422.2" stroke="#222" stroke-width="0.5"/>
<rect x="495.08" y="424.2" width="5.5" height="10.3" fill="#000"/>
<line x1="506.23" y1="425.5" x2="506.23" y2="427.8" stroke="#222" stroke-width="0.5"/>
<line x1="504.33" y1="425.5" x2="508.13" y2="425.5" stroke="#222" stroke-width="0.5"/>
<rect x="504.03" y="428.25" width="4.4" height="6.25" fill="#ff0000" stroke="#000" stroke-width="0.9"/>
<text x="497.98" y="417.9" font-size="5.2" font-weight="bold" text-anchor="middle" fill="#303030" style="stroke:none" letter-spacing="0.1">#</text>
<line x1="520.29" y1="428.4" x2="520.29" y2="429.1" stroke="#222" stroke-width="0.5"/>
<line x1="518.39" y1="428.4" x2="522.19" y2="428.4" stroke="#222" stroke-width="0.5"/>
<rect x="517.99" y="429.55" width="4.6" height="4.95" fill="#fff" stroke="#000" stroke-width="0.9"/>
<line x1="528.79" y1="423.6" x2="528.79" y2="425.8" stroke="#222" stroke-width="0.5"/>
<line x1="526.89" y1="423.6" x2="530.69" y2="423.6" stroke="#222" stroke-width="0.5"/>
<rect x="526.04" y="425.8" width="5.5" height="8.7" fill="#000"/>
<line x1="537.19" y1="429.8" x2="537.19" y2="430.5" stroke="#222" stroke-width="0.5"/>
<line x1="535.29" y1="429.8" x2="539.09" y2="429.8" stroke="#222" stroke-width="0.5"/>
<rect x="534.99" y="430.95" width="4.4" height="3.55" fill="#ff0000" stroke="#000" stroke-width="0.9"/>
<text x="537.89" y="428.95" font-size="8.8" font-weight="bold" text-anchor="middle" fill="#000" letter-spacing="0.7" style="stroke-width:.12px">*</text>
<line x1="236.6" y1="346.75" x2="236.6" y2="435.05" stroke="#000" stroke-width="1.1"/>
<line x1="233.2" y1="434.5" x2="543.6" y2="434.5" stroke="#000" stroke-width="1.1"/>
<text x="231" y="437.6" font-size="8.6" font-weight="bold" text-anchor="end" fill="#000">0</text>
<line x1="233.2" y1="405.43" x2="236.6" y2="405.43" stroke="#000" stroke-width="1.1"/>
<text x="231" y="408.53" font-size="8.6" font-weight="bold" text-anchor="end" fill="#000">5</text>
<line x1="233.2" y1="376.37" x2="236.6" y2="376.37" stroke="#000" stroke-width="1.1"/>
<text x="231" y="379.46" font-size="8.6" font-weight="bold" text-anchor="end" fill="#000">10</text>
<line x1="233.2" y1="347.3" x2="236.6" y2="347.3" stroke="#000" stroke-width="1.1"/>
<text x="231" y="350.4" font-size="8.6" font-weight="bold" text-anchor="end" fill="#000">15</text>
<line x1="250.1" y1="434.5" x2="250.1" y2="438" stroke="#000" stroke-width="1.1"/>
<text x="253.3" y="448" font-size="9.8" font-weight="bold" text-anchor="end" fill="#000" transform="rotate(-45 253.3 448)">Lgals1</text>
<line x1="281.06" y1="434.5" x2="281.06" y2="438" stroke="#000" stroke-width="1.1"/>
<text x="284.26" y="448" font-size="9.8" font-weight="bold" text-anchor="end" fill="#000" transform="rotate(-45 284.26 448)">Lgals3</text>
<line x1="312.02" y1="434.5" x2="312.02" y2="438" stroke="#000" stroke-width="1.1"/>
<text x="315.22" y="448" font-size="9.8" font-weight="bold" text-anchor="end" fill="#000" transform="rotate(-45 315.22 448)">Col1a1</text>
<line x1="342.98" y1="434.5" x2="342.98" y2="438" stroke="#000" stroke-width="1.1"/>
<text x="346.18" y="448" font-size="9.8" font-weight="bold" text-anchor="end" fill="#000" transform="rotate(-45 346.18 448)">Col1a2</text>
<line x1="373.94" y1="434.5" x2="373.94" y2="438" stroke="#000" stroke-width="1.1"/>
<text x="377.14" y="448" font-size="9.8" font-weight="bold" text-anchor="end" fill="#000" transform="rotate(-45 377.14 448)">Col3a1</text>
<line x1="404.9" y1="434.5" x2="404.9" y2="438" stroke="#000" stroke-width="1.1"/>
<text x="408.1" y="448" font-size="9.8" font-weight="bold" text-anchor="end" fill="#000" transform="rotate(-45 408.1 448)">Col6a3</text>
<line x1="435.86" y1="434.5" x2="435.86" y2="438" stroke="#000" stroke-width="1.1"/>
<text x="439.06" y="448" font-size="9.8" font-weight="bold" text-anchor="end" fill="#000" transform="rotate(-45 439.06 448)">Timp1</text>
<line x1="466.82" y1="434.5" x2="466.82" y2="438" stroke="#000" stroke-width="1.1"/>
<text x="470.02" y="448" font-size="9.8" font-weight="bold" text-anchor="end" fill="#000" transform="rotate(-45 470.02 448)">Vim</text>
<line x1="497.78" y1="434.5" x2="497.78" y2="438" stroke="#000" stroke-width="1.1"/>
<text x="500.98" y="448" font-size="9.8" font-weight="bold" text-anchor="end" fill="#000" transform="rotate(-45 500.98 448)">Mmp9</text>
<line x1="528.74" y1="434.5" x2="528.74" y2="438" stroke="#000" stroke-width="1.1"/>
<text x="531.94" y="448" font-size="9.8" font-weight="bold" text-anchor="end" fill="#000" transform="rotate(-45 531.94 448)">Mmp2</text>
<line x1="239.4" y1="473.6" x2="540.2" y2="473.6" stroke="#000" stroke-width="1"/>
<text x="394.4" y="485.6" font-size="10" font-weight="bold" text-anchor="middle" fill="#000">Fibrosis</text>
<text x="204.3" y="388.6" font-size="9.5" font-weight="bold" text-anchor="middle" fill="#000" transform="rotate(-90 204.3 388.6)" textLength="73.2" lengthAdjust="spacing">Relative mRNA</text>
<text x="214.9" y="388.4" font-size="9.5" font-weight="bold" text-anchor="middle" fill="#000" transform="rotate(-90 214.9 388.4)" textLength="61.2" lengthAdjust="spacing">levels&#160; (fold)</text>
<rect x="385.85" y="336.75" width="8.4" height="5.9" fill="#fff" stroke="#222" stroke-width="0.9"/>
<text x="400.2" y="342.6" font-size="9.3" font-weight="bold" text-anchor="start" fill="#000" letter-spacing="0.5">NC</text>
<rect x="443" y="336.3" width="9.1" height="6.8" fill="#000"/>
<text x="457.6" y="342.6" font-size="9.3" font-weight="bold" text-anchor="start" fill="#000" letter-spacing="0.5">HFD</text>
<rect x="503.85" y="336.75" width="8.2" height="5.9" fill="#ff0000" stroke="#000" stroke-width="0.9"/>
<text x="517.8" y="342.6" font-size="9.3" font-weight="bold" text-anchor="start" fill="#000" letter-spacing="0.5">SZ-A</text>
</svg>
</body></html>
